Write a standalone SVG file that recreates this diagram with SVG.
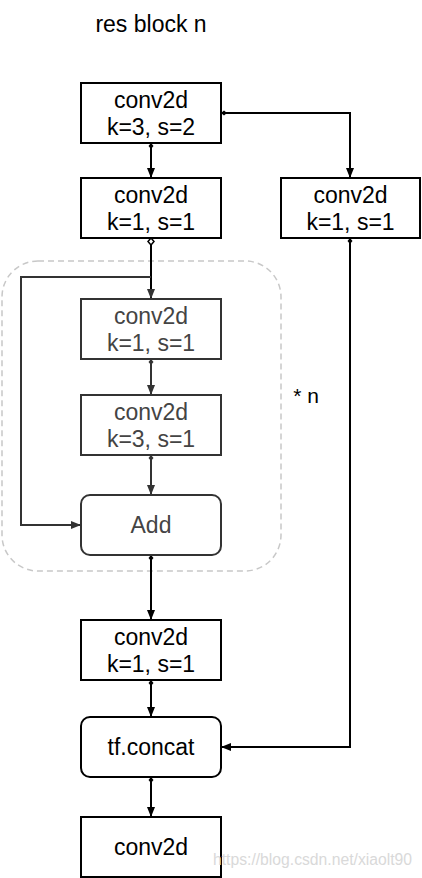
<svg xmlns="http://www.w3.org/2000/svg" width="422" height="878" viewBox="0 0 422 878">
<style>
text{font-family:"Liberation Sans",Arial,sans-serif;font-size:23px;text-anchor:middle;fill:#000}
.box{fill:#fff;stroke:#000;stroke-width:2}
.ibox{fill:#fff;stroke:#333;stroke-width:2}
.it{fill:#444}
.c{fill:none;stroke:#000;stroke-width:2}
.ci{fill:none;stroke:#333;stroke-width:2}
.wm{font-size:16px;fill:#d9d9d9;text-anchor:start}
.rep{font-size:21px}
</style>
<defs>
<marker id="arr" markerUnits="userSpaceOnUse" markerWidth="10" markerHeight="8" refX="10" refY="4" orient="auto"><path d="M0,0 L10,4 L0,8 z" fill="#000"/></marker>
<marker id="arrg" markerUnits="userSpaceOnUse" markerWidth="10" markerHeight="8" refX="10" refY="4" orient="auto"><path d="M0,0 L10,4 L0,8 z" fill="#333"/></marker>
<marker id="dia" markerUnits="userSpaceOnUse" markerWidth="6" markerHeight="6" refX="0" refY="3" orient="auto"><path d="M0,3 L3,0.5 L6,3 L3,5.5 z" fill="#000"/></marker>
<marker id="diag" markerUnits="userSpaceOnUse" markerWidth="6" markerHeight="6" refX="0" refY="3" orient="auto"><path d="M0,3 L3,0.5 L6,3 L3,5.5 z" fill="#333"/></marker>
<marker id="diah" markerUnits="userSpaceOnUse" markerWidth="9" markerHeight="8" refX="1" refY="4" orient="auto"><path d="M1,4 L4.5,1 L8,4 L4.5,7 z" fill="#fff" stroke="#000" stroke-width="1.5"/></marker>
</defs>
<rect width="422" height="878" fill="#fff"/>
<text x="151" y="32">res block n</text>
<g id="group-repeat">
<rect x="2" y="261" width="279" height="310" rx="36" fill="none" stroke="#c8c8c8" stroke-width="1.5" stroke-dasharray="6 4"/>
<text class="rep" x="306" y="403">* n</text>
</g>
<g id="connectors">
<path class="c" d="M151,143 V178" marker-start="url(#dia)" marker-end="url(#arr)"/>
<path class="c" d="M221,113 H350 V178" marker-start="url(#dia)" marker-end="url(#arr)"/>
<path class="c" d="M151,238 V299" marker-start="url(#diah)" marker-end="url(#arrg)"/>
<path class="ci" d="M151,277 H21 V525 H81" marker-end="url(#arrg)"/>
<path class="ci" d="M151,359 V395" marker-start="url(#diag)" marker-end="url(#arrg)"/>
<path class="ci" d="M151,455 V495" marker-start="url(#diag)" marker-end="url(#arrg)"/>
<path class="c" d="M151,555 V620" marker-start="url(#dia)" marker-end="url(#arr)"/>
<path class="c" d="M151,680 V717" marker-start="url(#dia)" marker-end="url(#arr)"/>
<path class="c" d="M350,238 V747 H221" marker-start="url(#dia)" marker-end="url(#arr)"/>
<path class="c" d="M151,777 V817" marker-start="url(#dia)" marker-end="url(#arr)"/>
</g>
<g id="node-conv1">
<rect class="box" x="81" y="83" width="140" height="60"/>
<text x="151" y="108">conv2d</text>
<text x="151" y="135">k=3, s=2</text>
</g>
<g id="node-conv2">
<rect class="box" x="81" y="178" width="140" height="60"/>
<text x="151" y="203">conv2d</text>
<text x="151" y="230">k=1, s=1</text>
</g>
<g id="node-conv-right">
<rect class="box" x="281" y="178" width="139" height="60"/>
<text x="350.5" y="203">conv2d</text>
<text x="350.5" y="230">k=1, s=1</text>
</g>
<g id="node-inner1">
<rect class="ibox" x="81" y="299" width="140" height="60"/>
<text class="it" x="151" y="324">conv2d</text>
<text class="it" x="151" y="351">k=1, s=1</text>
</g>
<g id="node-inner2">
<rect class="ibox" x="81" y="395" width="140" height="60"/>
<text class="it" x="151" y="420">conv2d</text>
<text class="it" x="151" y="447">k=3, s=1</text>
</g>
<g id="node-add">
<rect class="ibox" x="81" y="495" width="140" height="60" rx="9"/>
<text class="it" x="151" y="533">Add</text>
</g>
<g id="node-conv3">
<rect class="box" x="81" y="620" width="140" height="60"/>
<text x="151" y="645">conv2d</text>
<text x="151" y="672">k=1, s=1</text>
</g>
<g id="node-concat">
<rect class="box" x="81" y="717" width="140" height="60" rx="9"/>
<text x="151" y="755">tf.concat</text>
</g>
<g id="node-conv4">
<rect class="box" x="81" y="817" width="140" height="60"/>
<text x="151" y="855">conv2d</text>
</g>
<text class="wm" x="213" y="865" textLength="199" lengthAdjust="spacingAndGlyphs">https://blog.csdn.net/xiaolt90</text>
</svg>
